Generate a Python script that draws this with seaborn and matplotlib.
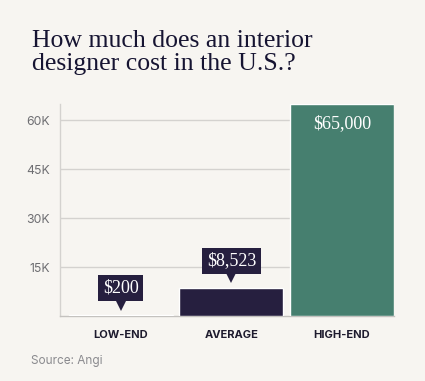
import matplotlib
matplotlib.use("Agg")
import matplotlib.pyplot as plt
import matplotlib.transforms as mtransforms
import seaborn as sns
import pandas as pd

# --- data ---
categories = ["LOW-END", "AVERAGE", "HIGH-END"]
costs = [200, 8523, 65000]
cost_labels = ["$200", "$8,523", "$65,000"]
tick_values = [15000, 30000, 45000, 60000]
tick_labels = ["15K", "30K", "45K", "60K"]

BG = "#f7f5f1"
NAVY = "#261f3f"
GREEN = "#467f6f"
GRID = "#d4d2cf"
GREY_TXT = "#6e6e72"

sns.set_theme(style="white")
plt.rcParams["font.family"] = ["Inter", "DejaVu Sans"]

df = pd.DataFrame({"category": categories, "cost": costs})

fig = plt.figure(figsize=(4.25, 3.81), dpi=100, facecolor=BG)
ax = fig.add_axes([60 / 425, 1 - 316 / 381, 334 / 425, 212 / 381])
ax.set_facecolor(BG)

sns.barplot(data=df, x="category", y="cost", hue="category",
            palette=[NAVY, NAVY, GREEN], width=0.94, legend=False,
            saturation=1, ax=ax, zorder=3)

ax.set_ylim(0, 65000)
ax.set_xlim(-0.55, 2.47)
ax.set_yticks(tick_values)
ax.set_yticklabels(tick_labels)
ax.yaxis.grid(True, color=GRID, linewidth=1, zorder=0)
ax.set_axisbelow(True)
ax.tick_params(axis="y", length=0, pad=7, labelsize=8.8, labelcolor=GREY_TXT)
ax.tick_params(axis="x", length=0, pad=10, labelsize=8, labelcolor="#1e1b2e")
for lab in ax.get_xticklabels():
    lab.set_fontweight("bold")
ax.set_xlabel("")
ax.set_ylabel("")

for side in ["top", "right"]:
    ax.spines[side].set_visible(False)
ax.spines["left"].set_color(GRID)
ax.spines["bottom"].set_color("#c4c2bf")
ax.spines["left"].set_linewidth(1)
ax.spines["bottom"].set_linewidth(1)

# value call-outs: boxed labels with a pointer for small bars, label inside for the tall one
for i, (v, lab) in enumerate(zip(costs, cost_labels)):
    if i < 2:
        ax.annotate(lab, xy=(i, v), xytext=(0, 13.5), textcoords="offset points",
                    ha="center", va="bottom", color="white", fontsize=13,
                    family="Liberation Serif", zorder=5,
                    bbox=dict(boxstyle="square,pad=0.25", fc=NAVY, ec="none"))
        tr = mtransforms.offset_copy(ax.transData, fig=fig, x=0, y=7, units="points")
        ax.plot([i], [v], marker="v", markersize=6.5, color=NAVY,
                markeredgewidth=0, transform=tr, zorder=5, clip_on=False)
    else:
        ax.annotate(lab, xy=(i, v), xytext=(0, -8), textcoords="offset points",
                    ha="center", va="top", color="white", fontsize=13,
                    family="Liberation Serif", zorder=5)

fig.text(32 / 425, 1 - 30 / 381, "How much does an interior\ndesigner cost in the U.S.?",
         ha="left", va="top", fontsize=18.5, family="Liberation Serif",
         color="#161432", linespacing=1.05)
fig.text(31 / 425, 1 - 361 / 381, "Source: Angi", ha="left", va="center",
         fontsize=8.5, color="#8a8a8e")

fig.savefig("out.png", dpi=100, facecolor=BG)
